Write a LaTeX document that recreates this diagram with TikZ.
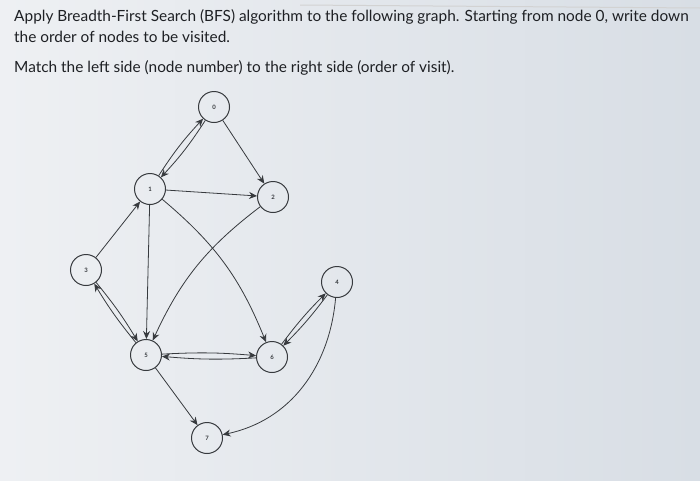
\documentclass[tikz,border=0pt]{standalone}
\usepackage{fontspec}
\setmainfont{Lato}
\usetikzlibrary{arrows.meta}
\definecolor{paper}{RGB}{216,222,229}
\definecolor{paperlight}{RGB}{238,240,243}
\definecolor{ink}{RGB}{55,58,62}
\definecolor{textink}{RGB}{30,32,36}
\begin{document}
\begin{tikzpicture}[x=1pt,y=-1pt,
    vertex/.style={circle,draw=ink,line width=1pt,minimum size=31pt,inner sep=0pt,font=\fontsize{6}{6}\selectfont\bfseries,text=ink},
    edge/.style={-{Stealth[length=8pt,width=7pt]},draw=ink,line width=0.8pt},
    question/.style={anchor=base west,inner sep=0pt,text=textink,font=\fontsize{15.4}{17}\selectfont}]
  \shade[left color=paperlight,right color=paper] (0,0) rectangle (700,480);
  \useasboundingbox (0,0) rectangle (700,480);
  \draw[gray!35,line width=1pt] (300,5) -- (700,8);
  \node[question] (q1) at (14,21) {Apply Breadth-First Search (BFS) algorithm to the following graph. Starting from node 0, write down};
  \node[question] (q2) at (14,42) {the order of nodes to be visited.};
  \node[question] (q3) at (14,72) {Match the left side (node number) to the right side (order of visit).};
  \begin{scope}[every node/.style={vertex}]
    \node (n0) at (214,107) {0};
    \node (n1) at (150,189) {1};
    \node (n2) at (273,197) {2};
    \node (n3) at (86,270) {3};
    \node (n4) at (337,282) {4};
    \node (n5) at (146,355) {5};
    \node (n6) at (272,357) {6};
    \node (n7) at (207,438) {7};
  \end{scope}
  \begin{scope}[every path/.style={edge}]
    \draw (n0) to[bend left=5] (n1);
    \draw (n1) to[bend left=5] (n0);
    \draw (n0) -- (n2);
    \draw (n1) -- (n2);
    \draw (n3) -- (n1);
    \draw (n1) -- (n5);
    \draw (n1) to[bend left=14] (n6);
    \draw (n2) to[bend right=14] (n5);
    \draw (n3) to[bend left=4] (n5);
    \draw (n5) to[bend left=4] (n3);
    \draw (n5) to[bend left=4] (n6);
    \draw (n6) to[bend left=4] (n5);
    \draw (n4) to[bend left=4] (n6);
    \draw (n6) to[bend left=4] (n4);
    \draw (n5) -- (n7);
    \draw (n4) to[out=-95,in=12] (n7);
  \end{scope}
\end{tikzpicture}
\end{document}
